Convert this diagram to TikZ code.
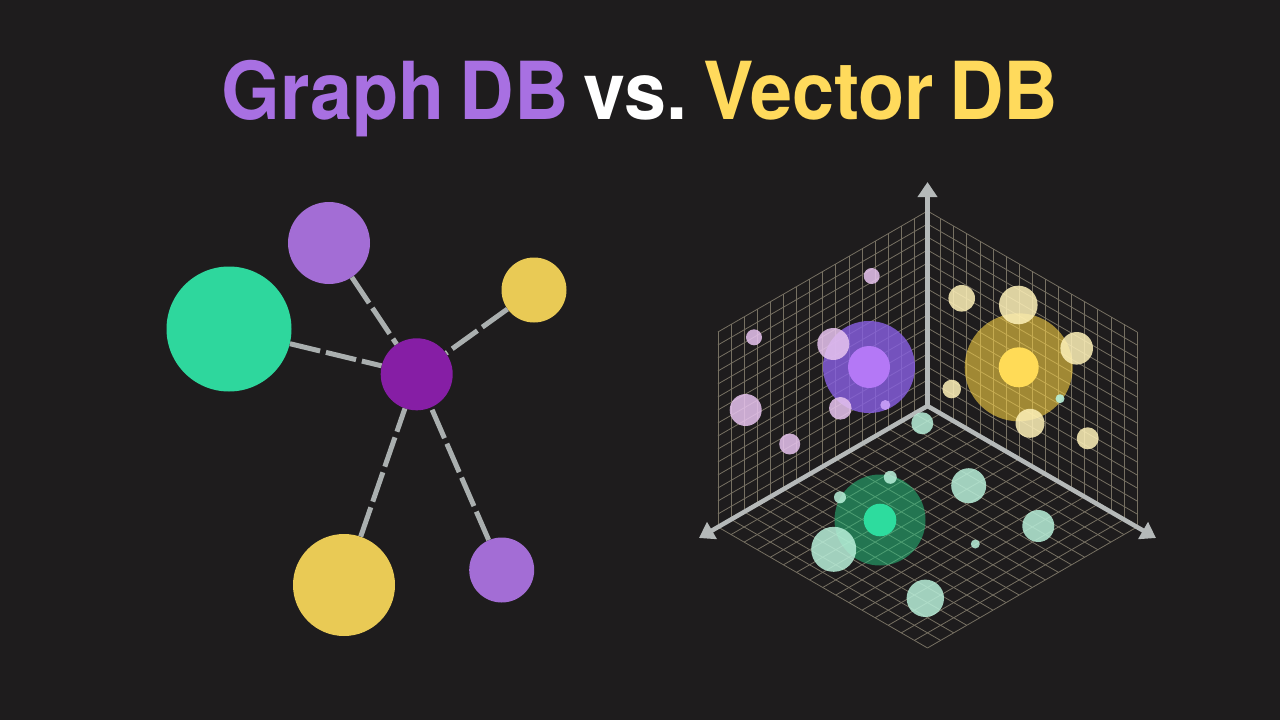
\documentclass[tikz,border=0pt]{standalone}
\usepackage{fontspec}
\usepackage{graphicx}
\setmainfont{TeX Gyre Heros}
\usetikzlibrary{arrows.meta}
\definecolor{bg}{RGB}{30,28,29}
\definecolor{tpurple}{RGB}{168,112,226}
\definecolor{tyellow}{RGB}{255,218,92}
\definecolor{npurple}{RGB}{163,109,213}
\definecolor{ndark}{RGB}{134,30,165}
\definecolor{nteal}{RGB}{46,215,157}
\definecolor{nyellow}{RGB}{233,202,85}
\definecolor{edgegray}{RGB}{170,175,175}
\definecolor{axisgray}{RGB}{181,185,185}
\definecolor{gridc}{RGB}{118,112,98}
\definecolor{lav}{RGB}{232,196,240}
\definecolor{paley}{RGB}{255,242,185}
\definecolor{mint}{RGB}{185,240,218}
\definecolor{phalo}{RGB}{135,95,225}
\definecolor{pcore}{RGB}{180,120,246}
\definecolor{yhalo}{RGB}{255,215,70}
\definecolor{ycore}{RGB}{255,219,87}
\definecolor{ghalo}{RGB}{40,200,130}
\definecolor{gcore}{RGB}{45,220,158}
\tikzset{
  gnode/.style={circle,inner sep=0pt,minimum size=#1,draw=none},
  conn/.style={draw=edgegray,line width=5pt,dash pattern=on 31pt off 6pt},
  gridline/.style={draw=gridc,line width=0.8pt},
  axisline/.style={draw=axisgray,line width=4.5pt,-{Triangle[width=19pt,length=15pt]}},
}
\begin{document}
\begin{tikzpicture}[x=1pt,y=-1pt]
\fill[bg] (0,0) rectangle (1280,720);
\useasboundingbox (0,0) rectangle (1280,720);
% title
\node[anchor=base,inner sep=0pt] (title) at (640,119)
  {\scalebox{0.945}[1]{\fontsize{80}{90}\selectfont\bfseries
   \textcolor{tpurple}{Graph\hspace{16pt}DB}\hspace{16pt}\textcolor{white}{vs.}\hspace{16pt}\textcolor{tyellow}{Vector\hspace{16pt}DB}}};
% graph DB
\node[gnode=72pt,fill=ndark] (c) at (416.7,374.3) {};
\node[gnode=82pt,fill=npurple] (p1) at (329,243) {};
\node[gnode=125pt,fill=nteal] (t) at (229,329) {};
\node[gnode=65pt,fill=nyellow] (y1) at (534,290) {};
\node[gnode=102pt,fill=nyellow] (y2) at (344,585) {};
\node[gnode=65pt,fill=npurple] (p2) at (501.7,570) {};
\draw[conn] (t) -- (c);
\draw[conn] (p1) -- (c);
\draw[conn] (y1) -- (c);
\draw[conn] (y2) -- (c);
\draw[conn] (p2) -- (c);
% vector DB grids
\coordinate (O) at (927.5,406);
\foreach \i in {0,...,16}{
  \draw[gridline] ({927.5-13.1*\i},{406+7.56*\i}) -- ++(0,-195);
  \draw[gridline] ({927.5+13.1*\i},{406+7.56*\i}) -- ++(0,-195);
  \draw[gridline] ({927.5-13.1*\i},{406+7.56*\i}) -- ++(209.6,121);
  \draw[gridline] ({927.5+13.1*\i},{406+7.56*\i}) -- ++(-209.6,121);
}
\foreach \j in {0,...,15}{
  \draw[gridline] (927.5,{406-13*\j}) -- ++(-209.6,121);
  \draw[gridline] (927.5,{406-13*\j}) -- ++(209.6,121);
}
% axes
\coordinate (tipU) at (927.5,182);
\coordinate (tipL) at (699,538);
\coordinate (tipR) at (1156,538);
\draw[axisline] (O) -- (tipU);
\draw[axisline] (O) -- (tipL);
\draw[axisline] (O) -- (tipR);
% purple cluster
\fill[phalo,fill opacity=0.82] (869,367) circle (46);
\fill[pcore] (869,367) circle (21);
\foreach \x/\y/\r in {871.7/276/8, 754/337.3/8, 833.3/344/16, 745.7/410/16, 840.3/408.3/11.3, 789.7/444/10.5}{
  \fill[lav,fill opacity=0.85] (\x,\y) circle (\r);
}
\fill[pcore!70!white,fill opacity=0.9] (885.3,405) circle (5);
% yellow cluster
\fill[yhalo,fill opacity=0.58] (1018.7,367.3) circle (54);
\fill[ycore] (1018.7,367.3) circle (20);
\foreach \x/\y/\r in {961.7/298.3/13.3, 1018.3/305/19.3, 1076.7/348.3/16.3, 951.7/389/9.3, 1030/423.3/14.5, 1087.7/438.3/11}{
  \fill[paley,fill opacity=0.85] (\x,\y) circle (\r);
}
\fill[mint,fill opacity=0.9] (1060,398.7) circle (4.5);
% green cluster
\fill[ghalo,fill opacity=0.52] (880,520) circle (45.5);
\fill[gcore] (880,520) circle (16.3);
\foreach \x/\y/\r in {922.3/423.3/11, 890.3/477.3/6.5, 840/497.3/6, 968.7/485.7/17.5, 833.7/549.3/22.5, 1038.3/526/16, 975.3/544/4.5, 925.3/598.3/18.7}{
  \fill[mint,fill opacity=0.85] (\x,\y) circle (\r);
}
\end{tikzpicture}
\end{document}
